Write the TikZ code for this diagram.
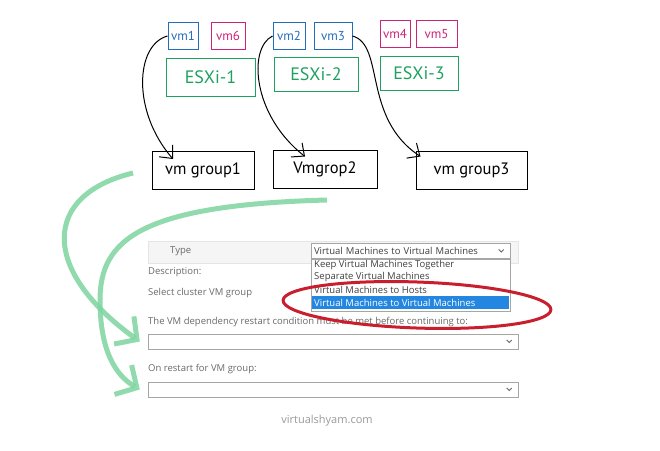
\documentclass[tikz,border=0pt]{standalone}
\usepackage{fontspec}
\setmainfont{Open Sans}
\newfontfamily\handfont{PT Sans}
\usetikzlibrary{arrows.meta}
\definecolor{vmblue}{RGB}{35,110,185}
\definecolor{vmpink}{RGB}{205,35,120}
\definecolor{esxgreen}{RGB}{30,160,95}
\definecolor{mint}{RGB}{125,212,160}
\definecolor{circred}{RGB}{200,30,45}
\definecolor{selblue}{RGB}{35,135,225}
\definecolor{uigray}{RGB}{105,105,105}
\tikzset{every picture/.style={x=1pt,y=-1pt}}
\tikzset{vmbox/.style={draw,line width=1pt,minimum width=30,minimum height=27,inner sep=1pt,font=\handfont\fontsize{13}{13}\selectfont}}
\tikzset{hostbox/.style={draw=esxgreen,text=esxgreen,line width=1pt,minimum height=34,font=\handfont\fontsize{18}{18}\selectfont}}
\tikzset{groupbox/.style={draw,line width=1pt,minimum height=38,font=\handfont\fontsize{16.5}{16.5}\selectfont}}
\tikzset{link/.style={line width=1pt,-{Straight Barb[length=10pt,width=18pt]}}}
\tikzset{flow/.style={mint,line width=5pt,opacity=.85,-{Straight Barb[length=16pt,width=34pt,line width=5pt]}}}
\tikzset{lbl/.style={anchor=west,inner sep=0pt,text=uigray,font=\fontsize{9.5}{10}\selectfont}}
\tikzset{item/.style={anchor=west,inner sep=0pt,text=black!75,font=\fontsize{9.5}{10}\selectfont}}
\tikzset{selbox/.style={draw=black!35,fill=white,minimum height=15,inner sep=0pt}}

\begin{document}
\begin{tikzpicture}
\useasboundingbox (0,0) rectangle (660,450);

% hosts and their vms
\node [vmbox,draw=vmblue,text=vmblue] (vm1) at (183,36) {vm1};
\node [vmbox,draw=vmpink,text=vmpink,minimum width=34] (vm6) at (228,36) {vm6};
\node [vmbox,draw=vmblue,text=vmblue,minimum width=32] (vm2) at (289,36) {vm2};
\node [vmbox,draw=vmblue,text=vmblue,minimum width=38] (vm3) at (333,36) {vm3};
\node [vmbox,draw=vmpink,text=vmpink] (vm4) at (395,34) {vm4};
\node [vmbox,draw=vmpink,text=vmpink,minimum width=41] (vm5) at (436.5,34) {vm5};

\node [hostbox,minimum width=89,minimum height=38] (esx1) at (210.5,77) {ESXi-1};
\node [hostbox,minimum width=84] (esx2) at (316,74) {ESXi-2};
\node [hostbox,minimum width=78] (esx3) at (419,73) {ESXi-3};

% vm groups
\node [groupbox,minimum width=102] (vg1) at (203,170.5) {vm group1};
\node [groupbox,minimum width=104] (vg2) at (325,169) {Vmgrop2};
\node [groupbox,minimum width=111] (vg3) at (471.5,170) {vm group3};

\draw [link] (vm1.west) .. controls (135,45) and (132,112) .. ([xshift=-30,yshift=-8]vg1.north);
\draw [link] (vm2.west) .. controls (248,48) and (252,115) .. ([xshift=-20,yshift=-7]vg2.north);
\draw [link] (vm3.east) .. controls (385,45) and (362,118) .. ([xshift=-51,yshift=-6]vg3.north);

% screenshot of the rule dialog
\node [fill=black!4,draw=black!10,minimum width=370,minimum height=22,inner sep=0pt] (typerow) at (333,252) {};
\node [lbl] (typelbl) at (170,251) {Type};
\node [selbox,minimum width=199,text width=193,align=left,font=\fontsize{9.5}{10}\selectfont,text=black!75] (typesel) at (410.5,251) {Virtual Machines to Virtual Machines};
\draw [black!60,line width=.8pt] ([xshift=-9]typesel.east) ++(-2.5,-1.5) -- ++(2.5,2.5) -- ++(2.5,-2.5);

\node [selbox,minimum width=199,minimum height=52] (typelist) at (410.5,285) {};
\node [fill=selblue,minimum width=197,minimum height=13,inner sep=0pt] (hilite) at (410.5,302.5) {};
\node [item] (opt1) at (314,265) {Keep Virtual Machines Together};
\node [item] (opt2) at (314,277.5) {Separate Virtual Machines};
\node [item] (opt3) at (314,290) {Virtual Machines to Hosts};
\node [item,text=white] (opt4) at (314,302.5) {Virtual Machines to Virtual Machines};

\node [lbl] (desc) at (148,272) {Description:};
\node [lbl] (selgrp) at (148,293) {Select cluster VM group};
\node [lbl] (cond) at (148,322) {The VM dependency restart condition must be met before continuing to:};
\node [selbox,minimum width=370] (sel1) at (333,341.5) {};
\draw [black!60,line width=.8pt] ([xshift=-9]sel1.east) ++(-2.5,-1.5) -- ++(2.5,2.5) -- ++(2.5,-2.5);
\node [lbl] (restart) at (148,369) {On restart for VM group:};
\node [selbox,minimum width=370] (sel2) at (333,389.5) {};
\draw [black!60,line width=.8pt] ([xshift=-9]sel2.east) ++(-2.5,-1.5) -- ++(2.5,2.5) -- ++(2.5,-2.5);

\node [text=black!40,font=\fontsize{11}{12}\selectfont] (site) at (327,421) {virtualshyam.com};

% red ring round the chosen type
\draw [circred,line width=3pt,rotate around={-2:(417,305)}] (417,305) ellipse (134 and 23);

% green arrows from the groups into the dialog
\coordinate (g1) at (133,173);
\coordinate (g2) at (327,200);
\draw [flow] (g1) .. controls (42,195) and (40,270) .. ([xshift=-8]sel1.west);
\draw [flow] (g2) .. controls (140,205) and (100,240) .. (100,300) .. controls (100,350) and (115,375) .. ([xshift=-8]sel2.west);
\end{tikzpicture}
\end{document}
